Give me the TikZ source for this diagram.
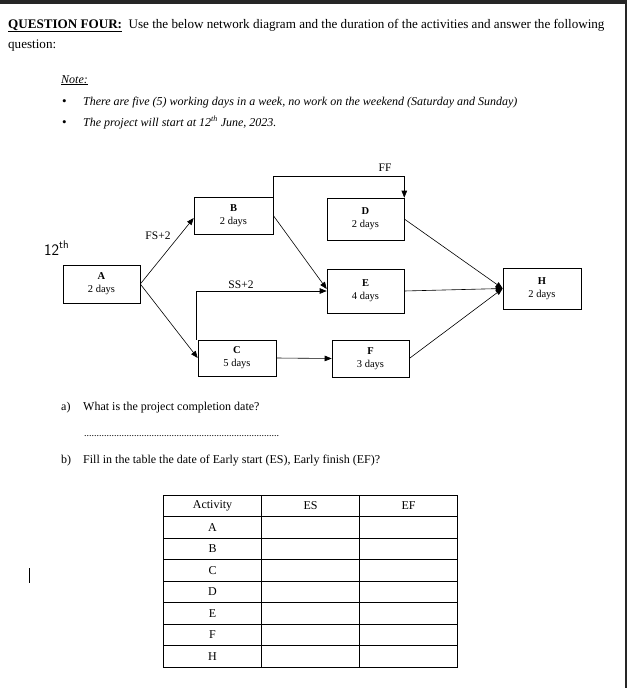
\documentclass[tikz,border=0pt]{standalone}
\usepackage{fontspec}
\setmainfont{Liberation Serif}
\usetikzlibrary{arrows.meta, positioning, calc}
\definecolor{kframe}{HTML}{262626}

\tikzset{
  txt/.style={anchor=base west, inner sep=0pt},
  actbox/.style={draw, line width=0.6pt, minimum width=77pt, minimum height=38pt,
    inner sep=0pt, align=center, font=\fontsize{10.5}{13}\selectfont},
  link/.style={-{Triangle[length=7pt,width=5.5pt]}, line width=0.6pt},
  lbl/.style={inner sep=0pt, font=\fontsize{11.5}{13}\selectfont},
  celltext/.style={inner sep=0pt, font=\fontsize{12}{14}\selectfont},
}

\begin{document}
\begin{tikzpicture}[x=1pt, y=-1pt]
\fill[white] (0,0) rectangle (627,688);
\useasboundingbox (0,0) rectangle (627,688);
\fill[kframe] (0,0) rectangle (627,3.5);
\fill[kframe] (625,0) rectangle (627,688);

% question text
\node[txt, font=\fontsize{13.1}{15}\selectfont] (qhead) at (8,28)
  {\underline{\textbf{QUESTION FOUR:}}\ \ Use the below network diagram and the duration of the activities and answer the following};
\node[txt, font=\fontsize{13.1}{15}\selectfont] (qhead2) at (8,48) {question:};
\node[txt, font=\fontsize{12}{14}\selectfont\itshape] (note) at (61,83) {\underline{Note:}};
\node[txt, font=\fontsize{13}{14}\selectfont] (bul1) at (62,105) {\textbullet};
\node[txt, font=\fontsize{12}{14}\selectfont\itshape] (note1) at (83,105)
  {There are five (5) working days in a week, no work on the weekend (Saturday and Sunday)};
\node[txt, font=\fontsize{13}{14}\selectfont] (bul2) at (62,126) {\textbullet};
\node[txt, font=\fontsize{12}{14}\selectfont\itshape] (note2) at (83,126)
  {The project will start at 12\textsuperscript{th} June, 2023.};

% network
\node[actbox] (A) at (101.5,284) {\textbf{A}\\2 days};
\node[actbox, minimum width=79pt, minimum height=37pt] (B) at (233.5,215.5) {\textbf{B}\\2 days};
\node[actbox, minimum width=78pt, minimum height=36pt] (C) at (237,358) {\textbf{C}\\5 days};
\node[actbox, minimum height=42pt] (D) at (365.5,219) {\textbf{D}\\2 days};
\node[actbox, minimum height=44pt] (E) at (365.5,291) {\textbf{E}\\4 days};
\node[actbox, minimum height=37pt] (F) at (370.5,358.5) {\textbf{F}\\3 days};
\node[actbox, minimum width=78pt, minimum height=41pt] (H) at (542,288.5) {\textbf{H}\\2 days};

\draw[link] (A.east) -- ([yshift=-2.5pt]B.west);
\draw[link] (A.east) -- (C.west);
\draw[link] (B.east) -- ([yshift=2pt]E.west);
\draw[link] (B.north east) |- ([yshift=21pt]D.north east) -- (D.north east);
\draw[link] ([xshift=-1pt]C.north west) |- (E.west);
\draw[link] (C.east) -- (F.west);
\draw[link] (D.east) -- (H.west);
\draw[link] (E.east) -- (H.west);
\draw[link] (F.east) -- (H.west);

\node[lbl] (fs) at (158,236) {FS+2};
\node[lbl] (ss) at (241,285) {SS+2};
\node[lbl] (ff) at (385,168) {FF};
\node[txt, font=\sffamily\fontsize{16}{16}\selectfont] (hand) at (44,255) {12\textsuperscript{th}};
\draw[line width=1pt] (29.5,568) -- (29.5,583);

% questions
\node[txt, font=\fontsize{12}{14}\selectfont] (qa) at (61,410) {a)};
\node[txt, font=\fontsize{12}{14}\selectfont] (qatext) at (83,410) {What is the project completion date?};
\node[txt, font=\fontsize{10}{10}\selectfont] (qadots) at (84,436) {\foreach \i in {1,...,78}{.}};
\node[txt, font=\fontsize{12}{14}\selectfont] (qb) at (61,463) {b)};
\node[txt, font=\fontsize{12}{14}\selectfont] (qbtext) at (83,463)
  {Fill in the table the date of Early start (ES), Early finish (EF)?};

% table
\draw[line width=0.6pt] (163.5,495) rectangle (457.5,667);
\foreach \k in {1,...,7}
  \draw[line width=0.6pt] (163.5,{495+21.5*\k}) -- (457.5,{495+21.5*\k});
\draw[line width=0.6pt] (261.5,495) -- (261.5,667);
\draw[line width=0.6pt] (359.5,495) -- (359.5,667);
\node[celltext] (hact) at (212.5,506) {Activity};
\node[celltext] (hes) at (310.5,506) {ES};
\node[celltext] (hef) at (408.5,506) {EF};
\foreach \a [count=\k] in {A,B,C,D,E,F,H}
  \node[celltext] (row\a) at (212.5,{506+21.5*\k}) {\a};
\end{tikzpicture}
\end{document}
